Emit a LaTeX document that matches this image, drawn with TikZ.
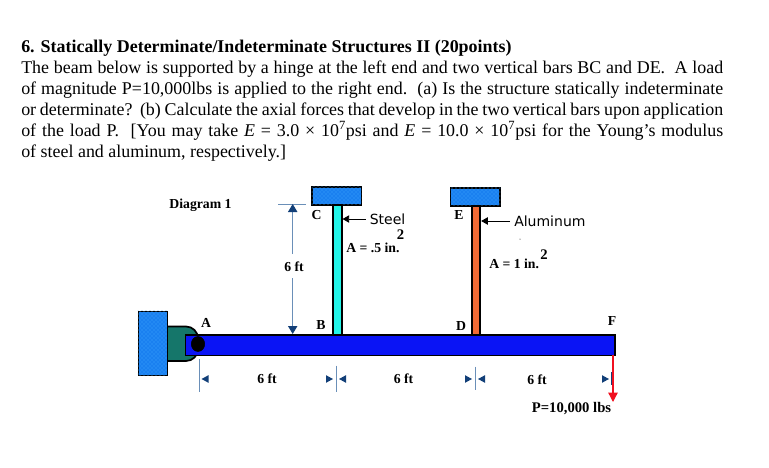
\documentclass[tikz,border=0pt]{standalone}
\usepackage{fontspec}
\setmainfont{Liberation Serif}
\newfontfamily\lblsans{DejaVu Sans}
\usetikzlibrary{arrows.meta,patterns}
\definecolor{wallblue}{HTML}{1A80F0}
\definecolor{walldot}{HTML}{40A8FF}
\definecolor{beamblue}{HTML}{0A14F5}
\definecolor{hingegreen}{HTML}{15766A}
\definecolor{steelbar}{HTML}{22F5E8}
\definecolor{alubar}{HTML}{F06A35}
\definecolor{dimline}{HTML}{6A8FB8}
\definecolor{dimhead}{HTML}{123F78}
\definecolor{loadred}{HTML}{F01020}
\newcommand{\parafont}{\fontsize{13.45pt}{15pt}\selectfont}
\tikzset{
  paraline/.style={anchor=base west,inner sep=0pt,font=\parafont},
  lbl/.style={inner sep=0pt,font=\bfseries\fontsize{10.3pt}{11pt}\selectfont},
  bigsq/.style={inner sep=0pt,anchor=center,font=\bfseries\fontsize{11pt}{12pt}\selectfont},
  sanslbl/.style={inner sep=0pt,anchor=west,font=\lblsans\fontsize{10.5pt}{11pt}\selectfont},
  outline/.style={draw=black,line width=1.3pt},
  dimln/.style={draw=dimline,line width=0.75pt},
  dimarrow/.style={dimln,-{Triangle[length=6pt,width=7pt,color=dimhead]}},
  callout/.style={draw=black,line width=0.7pt,-{Triangle[length=5pt,width=5.5pt]}},
  dither/.style={fill=wallblue,postaction={pattern=crosshatch dots,pattern color=walldot}},
}
\begin{document}
\begin{tikzpicture}[x=0.75pt,y=-0.75pt]
\useasboundingbox (0,0) rectangle (769,468);
% text
\node[paraline,font=\bfseries\parafont] (t1) at (21,52) {6. Statically Determinate/Indeterminate Structures II (20points)};
\node[paraline] (t2) at (21,73) {\hbox to 526.5pt{The beam below is supported by a hinge at the left end and two vertical bars BC and DE.\ \ A load}};
\node[paraline] (t3) at (21,94) {\hbox to 526.5pt{of magnitude P=10,000lbs is applied to the right end.\ \ (a) Is the structure statically indeterminate}};
\node[paraline] (t4) at (21,115.5) {\hbox to 526.5pt{or determinate?\ \ (b) Calculate the axial forces that develop in the two vertical bars upon application}};
\node[paraline] (t5) at (21,136.5) {\hbox to 526.5pt{of the load P.\ \ [You may take \textit{E} = 3.0 × 10$^{\mathrm{7}}$psi and \textit{E} = 10.0 × 10$^{\mathrm{7}}$psi for the Young’s modulus}};
\node[paraline] (t6) at (21,157) {of steel and aluminum, respectively.]};
% support
\path[fill=hingegreen,outline] (167,326.5) -- (186,326.5) arc[start angle=-90,end angle=0,radius=12] -- (198,349) arc[start angle=0,end angle=90,radius=12] -- (167,361) -- cycle;
\node[draw=black,line width=0.6pt,dither,minimum width=22pt,minimum height=48.4pt,inner sep=0pt,anchor=north west] (wall) at (137.5,310.5) {};
% beam
\node[outline,fill=beamblue,minimum width=322pt,minimum height=15.4pt,inner sep=0pt,anchor=north west] (beam) at (184.5,334) {};
\draw[fill=black] (198,344) ellipse[x radius=6.7,y radius=7.5];
% top blocks and bars
\node[outline,dither,minimum width=37.3pt,minimum height=13.5pt,inner sep=0pt,anchor=north west] (blockC) at (311,186) {};
\node[outline,dither,minimum width=37.3pt,minimum height=13.5pt,inner sep=0pt,anchor=north west] (blockE) at (449.5,187) {};
\node[outline,fill=steelbar,minimum width=6.3pt,minimum height=97.5pt,inner sep=0pt,anchor=north west] (barC) at (332.4,204) {};
\node[outline,fill=alubar,minimum width=6.3pt,minimum height=97pt,inner sep=0pt,anchor=north west] (barE) at (471,205) {};
% vertical dimension
\coordinate (dtopL) at (278,204); \coordinate (dtopR) at (306,204);
\coordinate (dv1) at (292.7,204); \coordinate (dv2) at (292.7,254);
\coordinate (dv3) at (292.7,278); \coordinate (dv4) at (292.7,334);
\draw[dimln] (dtopL) -- (dtopR);
\draw[dimarrow] (dv2) -- (dv1);
\draw[dimarrow] (dv3) -- (dv4);
\node[lbl] (dimv) at (294,266.7) {6 ft};
% bottom dimensions
\foreach \n/\x/\ya/\yb in {tA/199/359/392,tB/336/365.5/392,tD/475/366.5/390}{
  \coordinate (\n1) at (\x,\ya); \coordinate (\n2) at (\x,\yb);
  \draw[dimln] (\n1) -- (\n2);
}
\coordinate (tF1) at (611,372); \coordinate (tF2) at (611,385);
\draw[draw=dimhead,line width=0.75pt] (tF1) -- (tF2);
\foreach \x in {201.5,339,478}{ \fill[dimhead] (\x,379) -- ++(7,-3.8) -- ++(0,7.6) -- cycle; }
\foreach \x in {333,472,609}{ \fill[dimhead] (\x,379) -- ++(-7,-3.8) -- ++(0,7.6) -- cycle; }
\node[lbl] (dimb1) at (267,379) {6 ft};
\node[lbl] (dimb2) at (403.5,379) {6 ft};
\node[lbl] (dimb3) at (537,379.5) {6 ft};
% load
\coordinate (loadA) at (613,354.5); \coordinate (loadB) at (613,402);
\draw[draw=loadred,line width=1pt,-{Triangle[length=7pt,width=7pt,color=loadred]}] (loadA) -- (loadB);
\node[lbl,font=\bfseries\fontsize{11pt}{12pt}\selectfont] (pload) at (571.5,408.5) {P=10,000 lbs};
% labels
\node[lbl] (diag) at (200.5,205) {Diagram 1};
\node[lbl] (lA) at (206,323) {A};
\node[lbl] (lB) at (321,325) {B};
\node[lbl] (lC) at (316.5,215) {C};
\node[lbl] (lD) at (461,326) {D};
\node[lbl] (lE) at (459,215.5) {E};
\node[lbl] (lF) at (612,321) {F};
% material callouts
\node[sanslbl] (steel) at (369.5,219) {Steel};
\node[sanslbl] (alu) at (514,221) {Aluminum};
\draw[callout] (steel.west) ++(-4,0) coordinate (sc) -- (barC.east |- sc);
\draw[callout] (alu.west) ++(-4,0) coordinate (ac) -- (barE.east |- ac);
\node[lbl,anchor=west] (areaS) at (346,247.5) {A = .5 in.};
\node[bigsq] (sq1) at (400.5,235) {2};
\node[lbl,anchor=west] (areaA) at (489,263.5) {A = 1 in.};
\node[bigsq] (sq2) at (544,255) {2};
\fill[black] (520,239) circle[radius=0.5];
\end{tikzpicture}
\end{document}
